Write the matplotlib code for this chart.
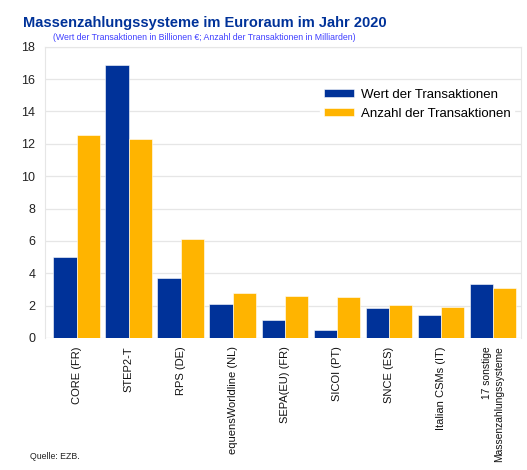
import numpy as np
import matplotlib
matplotlib.use('Agg')
import matplotlib.pyplot as plt

plt.rcParams['font.family'] = ['Liberation Sans', 'DejaVu Sans']

systems = ['CORE (FR)', 'STEP2-T', 'RPS (DE)', 'equensWorldline (NL)', 'SEPA(EU) (FR)',
           'SICOI (PT)', 'SNCE (ES)', 'Italian CSMs (IT)', '17 sonstige\nMassenzahlungssysteme']
wert = [5.0, 16.9, 3.7, 2.1, 1.13, 0.49, 1.85, 1.44, 3.33]
anzahl = [12.53, 12.27, 6.12, 2.77, 2.61, 2.5, 2.01, 1.89, 3.06]

blue = '#003299'
orange = '#ffb400'

fig = plt.figure(figsize=(5.27, 4.70), dpi=100)
ax = fig.add_axes([0.0854, 0.281, 0.9032, 0.6196])

x = np.arange(len(systems))
w = 0.448
ax.bar(x - w / 2, wert, w, color=blue, edgecolor='white', linewidth=0.4,
       label='Wert der Transaktionen', zorder=2)
ax.bar(x + w / 2, anzahl, w, color=orange, edgecolor='white', linewidth=0.4,
       label='Anzahl der Transaktionen', zorder=2)

ax.set_xlim(-0.61, 8.54)
ax.set_ylim(0, 18)
ax.set_yticks(range(0, 19, 2))
ax.set_yticks([0], minor=True)
ax.grid(axis='y', color='#e6e6e6', linewidth=0.9, zorder=0)
for s in ['top', 'right', 'left']:
    ax.spines[s].set_color('#e6e6e6')
ax.spines['bottom'].set_visible(False)
ax.tick_params(axis='y', length=0, labelsize=9, colors='#222222', pad=7)
ax.tick_params(axis='y', which='minor', length=3, width=0.8, color='#666666')
ax.tick_params(axis='x', length=0, pad=6)
ax.set_xticks(x)
labels = ax.set_xticklabels(systems, rotation=90, fontsize=8, va='top', ha='center',
                            multialignment='right', color='#111111')
labels[-1].set_fontsize(7.4)

leg = ax.legend(loc='upper right', bbox_to_anchor=(1.0, 0.891), frameon=True,
                fontsize=9.5, handlelength=2.3, handleheight=0.55,
                labelspacing=0.5, borderpad=0.3, handletextpad=0.5)
leg.get_frame().set_edgecolor('white')
leg.get_frame().set_alpha(1)

fig.text(0.043, 0.9426, 'Massenzahlungssysteme im Euroraum im Jahr 2020', fontsize=10.5,
         fontweight='bold', color='#003299', va='baseline')
fig.text(0.10, 0.921, '(Wert der Transaktionen in Billionen €; Anzahl der Transaktionen in Milliarden)',
         fontsize=6.3, color='#4040ff', va='center')
fig.text(0.057, 0.028, 'Quelle: EZB.', fontsize=6.3, color='#222222', va='center')

fig.savefig('out.png', dpi=100)
